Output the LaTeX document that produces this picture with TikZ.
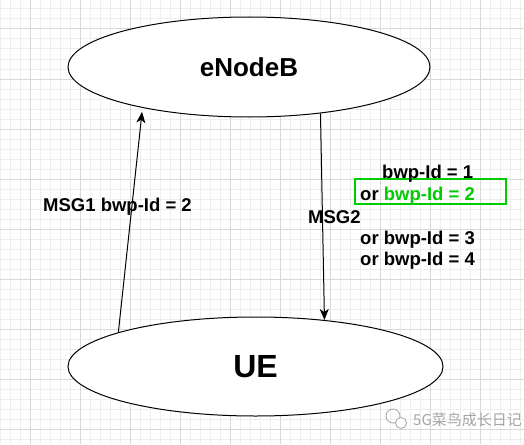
\documentclass[tikz,border=0pt]{standalone}
\usepackage{fontspec}
\setmainfont{Liberation Sans}
\newfontfamily\cjkfont{Noto Sans CJK SC}
\usetikzlibrary{shapes.geometric,arrows.meta}

\definecolor{selgreen}{RGB}{0,204,0}
\definecolor{majgrid}{RGB}{216,216,216}
\definecolor{mingrid}{RGB}{238,238,238}
\definecolor{wmgray}{RGB}{165,165,165}

\tikzstyle{elli} = [ellipse, draw=black, line width=1pt, fill=white, inner sep=0pt]
\tikzstyle{lbl} = [anchor=base west, inner sep=0pt, font=\fontsize{18.5}{21}\selectfont\bfseries]
\tikzstyle{selbox} = [rectangle, draw=selgreen, line width=2pt, minimum width=151pt, minimum height=25pt, inner sep=0pt]
\tikzstyle{arrow} = [line width=1pt, -{Stealth[length=11pt,width=9pt,inset=3pt]}]

\begin{document}
\begin{tikzpicture}[x=1pt, y=-1pt]
\useasboundingbox (0,0) rectangle (524,444);
\fill[white] (0,0) rectangle (524,444);

%% Grid
\foreach \x in {0,10,...,520} \draw[mingrid, line width=1pt] (\x,0) -- (\x,444);
\foreach \y in {9,19,...,439} \draw[mingrid, line width=1pt] (0,\y) -- (524,\y);
\foreach \x in {30,80,...,480} \draw[majgrid, line width=1pt] (\x,0) -- (\x,444);
\foreach \y in {29,79,...,429} \draw[majgrid, line width=1pt] (0,\y) -- (524,\y);

%% Base station and terminal
\node (enb) [elli, minimum width=362pt, minimum height=100pt, font=\fontsize{26}{30}\selectfont\bfseries] at (249,67) {eNodeB};
\node (ue) [elli, minimum width=375pt, minimum height=99pt, font=\fontsize{32}{36}\selectfont\bfseries] at (255.5,366.5) {UE};

%% Arrows
\draw [arrow, shorten >=4pt] (ue.166) -- (enb.201.6);
\draw [arrow] (enb.327) -- (ue.34);

%% Labels
\node (msg1) [lbl] at (43,211) {MSG1 bwp-Id = 2};
\node (sel) [selbox] at (430.5,191.5) {};
\node (bwp1) [lbl] at (382,178) {bwp-Id = 1};
\node (bwp2) [lbl] at (360,200) {or \textcolor{selgreen}{bwp-Id = 2}};
\node (msg2) [lbl] at (308,223) {MSG2};
\node (bwp3) [lbl] at (360,244) {or bwp-Id = 3};
\node (bwp4) [lbl] at (360,265) {or bwp-Id = 4};

%% Watermark
\draw [wmgray, line width=0.8pt] (393,416) circle (7pt);
\draw [wmgray, line width=0.8pt, fill=white] (401,423) circle (5.5pt);
\node (wm) [anchor=west, inner sep=0pt, text=wmgray, font=\cjkfont\fontsize{15}{15}\selectfont] at (413,420) {5G菜鸟成长日记};
\end{tikzpicture}
\end{document}
